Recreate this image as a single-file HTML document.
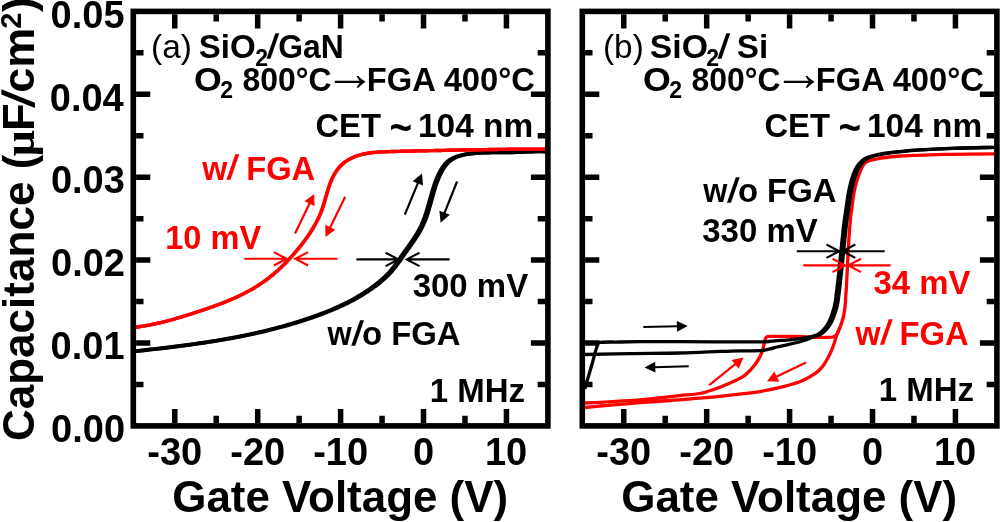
<!DOCTYPE html>
<html><head><meta charset="utf-8"><style>
html,body{margin:0;padding:0;background:#fff;}
body{width:1000px;height:522px;overflow:hidden;}
svg{display:block;}

</style></head><body>
<svg width="1000" height="522" viewBox="0 0 1000 522" font-family="&quot;Liberation Sans&quot;, sans-serif">
<rect width="1000" height="522" fill="#fff"/>
<path d="M132.32,351.41 L134.30,351.19 L136.28,350.98 L138.26,350.77 L140.24,350.55 L142.22,350.33 L144.20,350.12 L146.18,349.90 L148.16,349.68 L150.14,349.46 L152.12,349.23 L154.10,349.01 L156.09,348.78 L158.07,348.55 L160.05,348.32 L162.03,348.09 L164.01,347.85 L165.99,347.62 L167.97,347.38 L169.95,347.13 L171.93,346.89 L173.91,346.64 L175.89,346.39 L177.87,346.14 L179.85,345.89 L181.83,345.63 L183.81,345.37 L185.79,345.10 L187.77,344.84 L189.75,344.57 L191.72,344.29 L193.70,344.01 L195.68,343.73 L197.65,343.45 L199.63,343.16 L201.60,342.87 L203.57,342.57 L205.55,342.27 L207.52,341.97 L209.49,341.66 L211.46,341.35 L213.43,341.03 L215.40,340.71 L217.37,340.38 L219.33,340.05 L221.30,339.71 L223.27,339.37 L225.23,339.03 L227.19,338.68 L229.16,338.32 L231.12,337.96 L233.08,337.60 L235.04,337.23 L236.99,336.85 L238.95,336.47 L240.91,336.08 L242.86,335.69 L244.81,335.29 L246.76,334.89 L248.71,334.48 L250.66,334.06 L252.61,333.64 L254.56,333.21 L256.50,332.77 L258.44,332.33 L260.38,331.88 L262.32,331.43 L264.26,330.97 L266.20,330.50 L268.13,330.02 L270.07,329.54 L272.00,329.05 L273.93,328.56 L275.86,328.06 L277.78,327.54 L279.71,327.03 L281.63,326.50 L283.55,325.97 L285.47,325.43 L287.38,324.88 L289.30,324.33 L291.21,323.76 L293.12,323.19 L295.03,322.61 L296.94,322.02 L298.84,321.43 L300.74,320.82 L302.64,320.21 L304.54,319.59 L306.44,318.96 L308.33,318.32 L310.22,317.67 L312.11,317.01 L313.99,316.35 L315.88,315.67 L317.76,314.99 L319.63,314.29 L321.50,313.58 L323.37,312.87 L325.23,312.14 L327.09,311.39 L328.94,310.64 L330.78,309.88 L332.62,309.10 L334.45,308.30 L336.28,307.50 L338.10,306.68 L339.91,305.85 L341.72,305.00 L343.51,304.13 L345.30,303.26 L347.08,302.36 L348.85,301.45 L350.61,300.52 L352.36,299.58 L354.10,298.62 L355.83,297.64 L357.56,296.65 L359.27,295.64 L360.96,294.60 L362.65,293.55 L364.33,292.48 L365.99,291.39 L367.64,290.29 L369.28,289.16 L370.90,288.01 L372.52,286.84 L374.11,285.65 L375.70,284.43 L377.26,283.20 L378.81,281.94 L380.34,280.66 L381.84,279.35 L383.32,278.01 L384.77,276.65 L386.19,275.26 L387.58,273.84 L388.94,272.40 L390.26,270.92 L391.55,269.41 L392.79,267.87 L394.01,266.30 L395.20,264.71 L396.36,263.11 L397.52,261.49 L398.66,259.85 L399.80,258.21 L400.94,256.57 L402.09,254.93 L403.25,253.30 L404.42,251.67 L405.59,250.03 L406.76,248.40 L407.93,246.77 L409.09,245.13 L410.25,243.49 L411.39,241.84 L412.52,240.18 L413.63,238.52 L414.72,236.84 L415.78,235.15 L416.82,233.45 L417.82,231.73 L418.79,230.00 L419.73,228.25 L420.62,226.48 L421.47,224.68 L422.27,222.87 L423.04,221.04 L423.76,219.19 L424.46,217.32 L425.12,215.43 L425.75,213.54 L426.36,211.63 L426.95,209.71 L427.52,207.79 L428.08,205.85 L428.62,203.92 L429.17,201.97 L429.70,200.03 L430.24,198.09 L430.78,196.15 L431.33,194.21 L431.89,192.28 L432.46,190.35 L433.05,188.44 L433.66,186.53 L434.29,184.64 L434.95,182.75 L435.64,180.89 L436.37,179.04 L437.14,177.20 L437.94,175.39 L438.79,173.60 L439.70,171.84 L440.65,170.12 L441.67,168.45 L442.75,166.85 L443.90,165.31 L445.13,163.86 L446.44,162.49 L447.84,161.23 L449.33,160.09 L450.91,159.06 L452.58,158.14 L454.33,157.33 L456.14,156.61 L458.01,155.98 L459.93,155.43 L461.89,154.96 L463.88,154.55 L465.90,154.19 L467.92,153.88 L469.95,153.62 L471.98,153.39 L474.01,153.19 L476.04,153.03 L478.07,152.89 L480.09,152.78 L482.12,152.69 L484.14,152.62 L486.16,152.57 L488.18,152.54 L490.20,152.51 L492.22,152.50 L494.23,152.49 L496.24,152.49 L498.25,152.49 L500.25,152.49 L502.25,152.49 L504.25,152.48 L506.24,152.46 L508.23,152.43 L510.21,152.39 L512.19,152.33 L514.17,152.27 L516.14,152.19 L518.11,152.11 L520.08,152.02 L522.05,151.93 L524.02,151.85 L526.00,151.76 L527.97,151.68 L529.95,151.61 L531.94,151.55 L533.93,151.50 L535.92,151.47 L537.93,151.46 L539.94,151.46 L541.96,151.49 L543.98,151.54 L546.02,151.62" stroke="#000" stroke-width="3.70" fill="none" stroke-linejoin="round"/>
<path d="M134.32,351.41 L136.30,351.19 L138.28,350.98 L140.26,350.77 L142.24,350.55 L144.22,350.33 L146.20,350.12 L148.18,349.90 L150.16,349.68 L152.14,349.46 L154.12,349.23 L156.10,349.01 L158.09,348.78 L160.07,348.55 L162.05,348.32 L164.03,348.09 L166.01,347.85 L167.99,347.62 L169.97,347.38 L171.95,347.13 L173.93,346.89 L175.91,346.64 L177.89,346.39 L179.87,346.14 L181.85,345.89 L183.83,345.63 L185.81,345.37 L187.79,345.10 L189.77,344.84 L191.75,344.57 L193.72,344.29 L195.70,344.01 L197.68,343.73 L199.65,343.45 L201.63,343.16 L203.60,342.87 L205.57,342.57 L207.55,342.27 L209.52,341.97 L211.49,341.66 L213.46,341.35 L215.43,341.03 L217.40,340.71 L219.37,340.38 L221.33,340.05 L223.30,339.71 L225.27,339.37 L227.23,339.03 L229.19,338.68 L231.16,338.32 L233.12,337.96 L235.08,337.60 L237.04,337.23 L238.99,336.85 L240.95,336.47 L242.91,336.08 L244.86,335.69 L246.81,335.29 L248.76,334.89 L250.71,334.48 L252.66,334.06 L254.61,333.64 L256.56,333.21 L258.50,332.77 L260.44,332.33 L262.38,331.88 L264.32,331.43 L266.26,330.97 L268.20,330.50 L270.13,330.02 L272.07,329.54 L274.00,329.05 L275.93,328.56 L277.86,328.06 L279.78,327.54 L281.71,327.03 L283.63,326.50 L285.55,325.97 L287.47,325.43 L289.38,324.88 L291.30,324.33 L293.21,323.76 L295.12,323.19 L297.03,322.61 L298.94,322.02 L300.84,321.43 L302.74,320.82 L304.64,320.21 L306.54,319.59 L308.44,318.96 L310.33,318.32 L312.22,317.67 L314.11,317.01 L315.99,316.35 L317.88,315.67 L319.76,314.99 L321.63,314.29 L323.50,313.58 L325.37,312.87 L327.23,312.14 L329.09,311.39 L330.94,310.64 L332.78,309.88 L334.62,309.10 L336.45,308.30 L338.28,307.50 L340.10,306.68 L341.91,305.85 L343.72,305.00 L345.51,304.13 L347.30,303.26 L349.08,302.36 L350.85,301.45 L352.61,300.52 L354.36,299.58 L356.10,298.62 L357.83,297.64 L359.56,296.65 L361.27,295.64 L362.96,294.60 L364.65,293.55 L366.33,292.48 L367.99,291.39 L369.64,290.29 L371.28,289.16 L372.90,288.01 L374.52,286.84 L376.11,285.65 L377.70,284.43 L379.26,283.20 L380.81,281.94 L382.34,280.66 L383.84,279.35 L385.32,278.01 L386.77,276.65 L388.19,275.26 L389.58,273.84 L390.94,272.40 L392.26,270.92 L393.55,269.41 L394.79,267.87 L396.01,266.30 L397.20,264.71 L398.36,263.11 L399.52,261.49 L400.66,259.85 L401.80,258.21 L402.94,256.57 L404.09,254.93 L405.25,253.30 L406.42,251.67 L407.59,250.03 L408.76,248.40 L409.93,246.77 L411.09,245.13 L412.25,243.49 L413.39,241.84 L414.52,240.18 L415.63,238.52 L416.72,236.84 L417.78,235.15 L418.82,233.45 L419.82,231.73 L420.79,230.00 L421.73,228.25 L422.62,226.48 L423.47,224.68 L424.27,222.87 L425.04,221.04 L425.76,219.19 L426.46,217.32 L427.12,215.43 L427.75,213.54 L428.36,211.63 L428.95,209.71 L429.52,207.79 L430.08,205.85 L430.62,203.92 L431.17,201.97 L431.70,200.03 L432.24,198.09 L432.78,196.15 L433.33,194.21 L433.89,192.28 L434.46,190.35 L435.05,188.44 L435.66,186.53 L436.29,184.64 L436.95,182.75 L437.64,180.89 L438.37,179.04 L439.14,177.20 L439.94,175.39 L440.79,173.60 L441.70,171.84 L442.65,170.12 L443.67,168.45 L444.75,166.85 L445.90,165.31 L447.13,163.86 L448.44,162.49 L449.84,161.23 L451.33,160.09 L452.91,159.06 L454.58,158.14 L456.33,157.33 L458.14,156.61 L460.01,155.98 L461.93,155.43 L463.89,154.96 L465.88,154.55 L467.90,154.19 L469.92,153.88 L471.95,153.62 L473.98,153.39 L476.01,153.19 L478.04,153.03 L480.07,152.89 L482.09,152.78 L484.12,152.69 L486.14,152.62 L488.16,152.57 L490.18,152.54 L492.20,152.51 L494.22,152.50 L496.23,152.49 L498.24,152.49 L500.25,152.49 L502.25,152.49 L504.25,152.49 L506.25,152.48 L508.24,152.46 L510.23,152.43 L512.21,152.39 L514.19,152.33 L516.17,152.27 L518.14,152.19 L520.11,152.11 L522.08,152.02 L524.05,151.93 L526.02,151.85 L528.00,151.76 L529.97,151.68 L531.95,151.61 L533.94,151.55 L535.93,151.50 L537.92,151.47 L539.93,151.46 L541.94,151.46 L543.96,151.49 L545.98,151.54 L548.02,151.62" stroke="#000" stroke-width="3.70" fill="none" stroke-linejoin="round"/>
<path d="M133.12,327.53 L135.13,327.28 L137.13,327.02 L139.12,326.73 L141.11,326.43 L143.10,326.11 L145.07,325.77 L147.04,325.42 L149.01,325.05 L150.97,324.67 L152.92,324.27 L154.87,323.86 L156.82,323.43 L158.76,322.99 L160.70,322.54 L162.63,322.07 L164.56,321.59 L166.49,321.10 L168.41,320.60 L170.33,320.09 L172.25,319.56 L174.17,319.03 L176.08,318.48 L177.99,317.93 L179.89,317.37 L181.80,316.80 L183.71,316.22 L185.61,315.63 L187.51,315.03 L189.41,314.43 L191.31,313.82 L193.21,313.21 L195.11,312.59 L197.01,311.97 L198.91,311.34 L200.81,310.70 L202.71,310.06 L204.61,309.42 L206.50,308.77 L208.40,308.11 L210.29,307.45 L212.19,306.78 L214.08,306.10 L215.96,305.42 L217.85,304.72 L219.73,304.01 L221.60,303.30 L223.47,302.57 L225.33,301.83 L227.19,301.08 L229.04,300.31 L230.88,299.54 L232.72,298.74 L234.55,297.94 L236.37,297.11 L238.18,296.28 L239.98,295.42 L241.78,294.55 L243.56,293.66 L245.33,292.76 L247.09,291.83 L248.84,290.88 L250.57,289.92 L252.30,288.93 L254.01,287.93 L255.70,286.90 L257.39,285.85 L259.06,284.77 L260.71,283.67 L262.35,282.55 L263.97,281.41 L265.58,280.24 L267.17,279.05 L268.75,277.84 L270.31,276.61 L271.86,275.36 L273.39,274.08 L274.91,272.79 L276.41,271.48 L277.90,270.15 L279.37,268.80 L280.83,267.43 L282.27,266.05 L283.70,264.65 L285.12,263.23 L286.52,261.80 L287.90,260.36 L289.27,258.90 L290.63,257.42 L291.97,255.93 L293.30,254.43 L294.61,252.92 L295.91,251.39 L297.20,249.86 L298.47,248.31 L299.72,246.76 L300.97,245.19 L302.19,243.61 L303.41,242.03 L304.60,240.43 L305.78,238.82 L306.94,237.21 L308.08,235.57 L309.20,233.93 L310.29,232.28 L311.37,230.61 L312.41,228.92 L313.43,227.22 L314.42,225.51 L315.39,223.78 L316.32,222.04 L317.22,220.27 L318.09,218.49 L318.93,216.69 L319.73,214.88 L320.50,213.04 L321.23,211.18 L321.91,209.31 L322.57,207.41 L323.19,205.50 L323.78,203.57 L324.36,201.64 L324.92,199.70 L325.48,197.75 L326.03,195.80 L326.59,193.86 L327.16,191.92 L327.74,189.99 L328.35,188.07 L328.98,186.16 L329.65,184.27 L330.35,182.41 L331.10,180.56 L331.90,178.75 L332.76,176.96 L333.68,175.21 L334.65,173.50 L335.69,171.84 L336.80,170.23 L337.97,168.67 L339.21,167.18 L340.52,165.76 L341.91,164.42 L343.37,163.15 L344.91,161.96 L346.51,160.85 L348.17,159.82 L349.88,158.87 L351.64,157.99 L353.45,157.18 L355.29,156.44 L357.16,155.77 L359.05,155.17 L360.97,154.63 L362.91,154.16 L364.87,153.74 L366.85,153.37 L368.84,153.05 L370.84,152.78 L372.85,152.54 L374.88,152.35 L376.91,152.18 L378.94,152.04 L380.98,151.93 L383.03,151.83 L385.07,151.75 L387.11,151.68 L389.15,151.62 L391.18,151.56 L393.21,151.51 L395.23,151.45 L397.24,151.40 L399.25,151.35 L401.26,151.29 L403.26,151.24 L405.26,151.20 L407.25,151.15 L409.25,151.10 L411.23,151.06 L413.22,151.01 L415.20,150.97 L417.18,150.92 L419.16,150.88 L421.14,150.84 L423.12,150.80 L425.10,150.75 L427.07,150.71 L429.05,150.67 L431.02,150.63 L433.00,150.59 L434.98,150.55 L436.96,150.51 L438.94,150.47 L440.92,150.44 L442.90,150.40 L444.89,150.36 L446.88,150.32 L448.87,150.28 L450.86,150.24 L452.85,150.20 L454.84,150.16 L456.84,150.12 L458.83,150.09 L460.83,150.05 L462.83,150.01 L464.83,149.97 L466.83,149.94 L468.83,149.90 L470.84,149.86 L472.84,149.83 L474.84,149.79 L476.85,149.76 L478.85,149.72 L480.86,149.69 L482.87,149.66 L484.87,149.63 L486.88,149.59 L488.89,149.56 L490.89,149.53 L492.90,149.50 L494.91,149.48 L496.91,149.45 L498.92,149.42 L500.93,149.39 L502.93,149.37 L504.94,149.34 L506.94,149.32 L508.94,149.30 L510.95,149.28 L512.95,149.26 L514.95,149.24 L516.95,149.22 L518.95,149.20 L520.95,149.19 L522.95,149.17 L524.94,149.16 L526.94,149.14 L528.93,149.13 L530.92,149.12 L532.91,149.12 L534.90,149.11 L536.89,149.10 L538.87,149.10 L540.86,149.10 L542.84,149.09 L544.82,149.09 L546.79,149.10" stroke="#ff0000" stroke-width="3.40" fill="none" stroke-linejoin="round"/>
<path d="M133.42,327.53 L135.43,327.28 L137.43,327.02 L139.42,326.73 L141.41,326.43 L143.40,326.11 L145.37,325.77 L147.34,325.42 L149.31,325.05 L151.27,324.67 L153.22,324.27 L155.17,323.86 L157.12,323.43 L159.06,322.99 L161.00,322.54 L162.93,322.07 L164.86,321.59 L166.79,321.10 L168.71,320.60 L170.63,320.09 L172.55,319.56 L174.47,319.03 L176.38,318.48 L178.29,317.93 L180.19,317.37 L182.10,316.80 L184.01,316.22 L185.91,315.63 L187.81,315.03 L189.71,314.43 L191.61,313.82 L193.51,313.21 L195.41,312.59 L197.31,311.97 L199.21,311.34 L201.11,310.70 L203.01,310.06 L204.91,309.42 L206.80,308.77 L208.70,308.11 L210.59,307.45 L212.49,306.78 L214.38,306.10 L216.26,305.42 L218.15,304.72 L220.03,304.01 L221.90,303.30 L223.77,302.57 L225.63,301.83 L227.49,301.08 L229.34,300.31 L231.18,299.54 L233.02,298.74 L234.85,297.94 L236.67,297.11 L238.48,296.28 L240.28,295.42 L242.08,294.55 L243.86,293.66 L245.63,292.76 L247.39,291.83 L249.14,290.88 L250.87,289.92 L252.60,288.93 L254.31,287.93 L256.00,286.90 L257.69,285.85 L259.36,284.77 L261.01,283.67 L262.65,282.55 L264.27,281.41 L265.88,280.24 L267.47,279.05 L269.05,277.84 L270.61,276.61 L272.16,275.36 L273.69,274.08 L275.21,272.79 L276.71,271.48 L278.20,270.15 L279.67,268.80 L281.13,267.43 L282.57,266.05 L284.00,264.65 L285.42,263.23 L286.82,261.80 L288.20,260.36 L289.57,258.90 L290.93,257.42 L292.27,255.93 L293.60,254.43 L294.91,252.92 L296.21,251.39 L297.50,249.86 L298.77,248.31 L300.02,246.76 L301.27,245.19 L302.49,243.61 L303.71,242.03 L304.90,240.43 L306.08,238.82 L307.24,237.21 L308.38,235.57 L309.50,233.93 L310.59,232.28 L311.67,230.61 L312.71,228.92 L313.73,227.22 L314.72,225.51 L315.69,223.78 L316.62,222.04 L317.52,220.27 L318.39,218.49 L319.23,216.69 L320.03,214.88 L320.80,213.04 L321.53,211.18 L322.21,209.31 L322.87,207.41 L323.49,205.50 L324.08,203.57 L324.66,201.64 L325.22,199.70 L325.78,197.75 L326.33,195.80 L326.89,193.86 L327.46,191.92 L328.04,189.99 L328.65,188.07 L329.28,186.16 L329.95,184.27 L330.65,182.41 L331.40,180.56 L332.20,178.75 L333.06,176.96 L333.98,175.21 L334.95,173.50 L335.99,171.84 L337.10,170.23 L338.27,168.67 L339.51,167.18 L340.82,165.76 L342.21,164.42 L343.67,163.15 L345.21,161.96 L346.81,160.85 L348.47,159.82 L350.18,158.87 L351.94,157.99 L353.75,157.18 L355.59,156.44 L357.46,155.77 L359.35,155.17 L361.27,154.63 L363.21,154.16 L365.17,153.74 L367.15,153.37 L369.14,153.05 L371.14,152.78 L373.15,152.54 L375.18,152.35 L377.21,152.18 L379.24,152.04 L381.28,151.93 L383.33,151.83 L385.37,151.75 L387.41,151.68 L389.45,151.62 L391.48,151.56 L393.51,151.51 L395.53,151.45 L397.54,151.40 L399.55,151.35 L401.56,151.29 L403.56,151.24 L405.56,151.20 L407.55,151.15 L409.55,151.10 L411.53,151.06 L413.52,151.01 L415.50,150.97 L417.48,150.92 L419.46,150.88 L421.44,150.84 L423.42,150.80 L425.40,150.75 L427.37,150.71 L429.35,150.67 L431.32,150.63 L433.30,150.59 L435.28,150.55 L437.26,150.51 L439.24,150.47 L441.22,150.44 L443.20,150.40 L445.19,150.36 L447.18,150.32 L449.17,150.28 L451.16,150.24 L453.15,150.20 L455.14,150.16 L457.14,150.12 L459.13,150.09 L461.13,150.05 L463.13,150.01 L465.13,149.97 L467.13,149.94 L469.13,149.90 L471.14,149.86 L473.14,149.83 L475.14,149.79 L477.15,149.76 L479.15,149.72 L481.16,149.69 L483.17,149.66 L485.17,149.63 L487.18,149.59 L489.19,149.56 L491.19,149.53 L493.20,149.50 L495.21,149.48 L497.21,149.45 L499.22,149.42 L501.23,149.39 L503.23,149.37 L505.24,149.34 L507.24,149.32 L509.24,149.30 L511.25,149.28 L513.25,149.26 L515.25,149.24 L517.25,149.22 L519.25,149.20 L521.25,149.19 L523.25,149.17 L525.24,149.16 L527.24,149.14 L529.23,149.13 L531.22,149.12 L533.21,149.12 L535.20,149.11 L537.19,149.10 L539.17,149.10 L541.16,149.10 L543.14,149.09 L545.12,149.09 L547.09,149.10" stroke="#ff0000" stroke-width="3.40" fill="none" stroke-linejoin="round"/>
<path d="M295.00,233.50L309.92,202.72" stroke="#ff0000" stroke-width="2.20"/>
<path d="M314.20,193.90L314.53,206.06L304.45,201.17Z" fill="#ff0000"/>
<path d="M345.20,196.70L329.80,228.20" stroke="#ff0000" stroke-width="2.20"/>
<path d="M325.50,237.00L325.21,224.84L335.27,229.76Z" fill="#ff0000"/>
<path d="M404.80,214.60L418.22,182.44" stroke="#000" stroke-width="2.20"/>
<path d="M422.00,173.40L423.01,185.52L412.67,181.21Z" fill="#000"/>
<path d="M457.10,181.50L444.24,213.70" stroke="#000" stroke-width="2.20"/>
<path d="M440.60,222.80L439.41,210.69L449.81,214.85Z" fill="#000"/>
<path d="M244.30,258.80L286.60,258.80M273.80,252.10L286.60,258.80L273.80,265.50" stroke="#ff0000" stroke-width="2.10" fill="none" stroke-linejoin="miter"/>
<path d="M337.60,258.80L295.30,258.80M308.10,252.10L295.30,258.80L308.10,265.50" stroke="#ff0000" stroke-width="2.10" fill="none" stroke-linejoin="miter"/>
<path d="M356.40,259.40L398.40,259.40M385.60,252.70L398.40,259.40L385.60,266.10" stroke="#000" stroke-width="2.10" fill="none" stroke-linejoin="miter"/>
<path d="M449.60,259.40L406.70,259.40M419.50,252.70L406.70,259.40L419.50,266.10" stroke="#000" stroke-width="2.10" fill="none" stroke-linejoin="miter"/>
<path d="M584.70,403.00 C587.25,402.88 594.78,402.58 600.00,402.30 C605.22,402.02 609.33,401.72 616.00,401.30 C622.67,400.88 632.00,400.43 640.00,399.80 C648.00,399.17 657.33,398.20 664.00,397.50 C670.67,396.80 674.00,396.27 680.00,395.60 C686.00,394.93 694.12,394.60 700.00,393.50 C705.88,392.40 710.18,390.78 715.30,389.00 C720.42,387.22 726.10,384.85 730.70,382.80 C735.30,380.75 739.58,378.87 742.90,376.70 C746.22,374.53 748.33,372.17 750.60,369.80 C752.87,367.43 754.85,364.88 756.50,362.50 C758.15,360.12 759.42,357.83 760.50,355.50 C761.58,353.17 762.32,350.75 763.00,348.50 C763.68,346.25 764.17,343.72 764.60,342.00 C765.03,340.28 765.10,339.12 765.60,338.20 C766.10,337.28 766.03,336.80 767.60,336.50 C769.17,336.20 771.27,336.40 775.00,336.40 C778.73,336.40 785.33,336.47 790.00,336.50 C794.67,336.53 798.83,336.47 803.00,336.60 C807.17,336.73 811.17,337.18 815.00,337.30 C818.83,337.42 823.00,337.35 826.00,337.30 C829.00,337.25 831.17,337.47 833.00,337.00 C834.83,336.53 835.83,336.17 837.00,334.50 C838.17,332.83 839.50,328.25 840.00,327.00" stroke="#ff0000" stroke-width="3.30" fill="none" stroke-linejoin="round" stroke-linecap="butt"/>
<path d="M584.70,407.50 C587.25,407.25 594.12,406.53 600.00,406.00 C605.88,405.47 613.33,404.85 620.00,404.30 C626.67,403.75 631.67,403.33 640.00,402.70 C648.33,402.07 660.00,401.25 670.00,400.50 C680.00,399.75 689.88,399.10 700.00,398.20 C710.12,397.30 720.48,396.25 730.70,395.10 C740.92,393.95 752.20,392.78 761.30,391.30 C770.40,389.82 778.42,388.00 785.30,386.20 C792.18,384.40 797.48,382.73 802.60,380.50 C807.72,378.27 812.68,375.13 816.00,372.80 C819.32,370.47 820.67,368.72 822.50,366.50 C824.33,364.28 825.58,361.97 827.00,359.50 C828.42,357.03 829.78,354.45 831.00,351.70 C832.22,348.95 833.27,346.03 834.30,343.00 C835.33,339.97 836.17,336.33 837.20,333.50 C838.23,330.67 839.52,328.58 840.50,326.00 C841.48,323.42 842.42,320.62 843.10,318.00 C843.78,315.38 844.22,312.85 844.60,310.30 C844.98,307.75 845.20,305.25 845.40,302.70 C845.60,300.15 845.67,297.02 845.80,295.00 C845.93,292.98 846.07,292.60 846.20,290.60 C846.33,288.60 846.47,285.55 846.60,283.00 C846.73,280.45 846.87,277.85 847.00,275.30 C847.13,272.75 847.27,270.25 847.40,267.70 C847.53,265.15 847.67,262.62 847.80,260.00 C847.93,257.38 848.07,254.67 848.20,252.00 C848.33,249.33 848.45,246.67 848.60,244.00 C848.75,241.33 848.93,238.58 849.10,236.00 C849.27,233.42 849.40,231.00 849.60,228.50 C849.80,226.00 850.08,223.33 850.30,221.00 C850.52,218.67 850.68,216.40 850.90,214.50 C851.12,212.60 851.32,211.70 851.60,209.60 C851.88,207.50 852.23,204.47 852.60,201.90 C852.97,199.33 853.35,196.77 853.80,194.20 C854.25,191.63 854.60,189.32 855.30,186.50 C856.00,183.68 857.05,180.12 858.00,177.30 C858.95,174.48 859.92,171.90 861.00,169.60 C862.08,167.30 863.25,164.93 864.50,163.50 C865.75,162.07 866.75,161.68 868.50,161.00 C870.25,160.32 872.28,159.98 875.00,159.40 C877.72,158.82 880.63,158.07 884.80,157.50 C888.97,156.93 894.80,156.37 900.00,156.00 C905.20,155.63 907.33,155.58 916.00,155.30 C924.67,155.02 939.00,154.55 952.00,154.30 C965.00,154.05 987.00,153.88 994.00,153.80" stroke="#ff0000" stroke-width="3.30" fill="none" stroke-linejoin="round" stroke-linecap="butt"/>
<path d="M584.70,389.00 C585.83,385.17 589.37,373.33 591.50,366.00 C593.63,358.67 595.92,348.95 597.50,345.00 C599.08,341.05 597.25,342.80 601.00,342.30 C604.75,341.80 611.83,342.12 620.00,342.00 C628.17,341.88 640.00,341.67 650.00,341.60 C660.00,341.53 668.33,341.55 680.00,341.60 C691.67,341.65 706.00,341.87 720.00,341.90 C734.00,341.93 754.83,341.98 764.00,341.80 C773.17,341.62 770.67,341.13 775.00,340.80 C779.33,340.47 785.83,340.17 790.00,339.80 C794.17,339.43 797.33,338.97 800.00,338.60 C802.67,338.23 804.23,337.90 806.00,337.60 C807.77,337.30 808.88,337.25 810.65,336.80 C812.42,336.35 814.90,335.70 816.65,334.90 C818.40,334.10 819.70,333.23 821.15,332.00 C822.60,330.77 824.07,329.17 825.35,327.50 C826.63,325.83 827.80,324.03 828.85,322.00 C829.90,319.97 830.80,317.63 831.65,315.30 C832.50,312.97 833.35,310.22 833.95,308.00 C834.55,305.78 834.88,304.17 835.25,302.00 C835.62,299.83 835.85,297.33 836.15,295.00 C836.45,292.67 836.75,290.50 837.05,288.00 C837.35,285.50 837.65,282.67 837.95,280.00 C838.25,277.33 838.57,274.67 838.85,272.00 C839.13,269.33 839.38,266.67 839.65,264.00 C839.92,261.33 840.18,258.67 840.45,256.00 C840.72,253.33 840.98,250.62 841.25,248.00 C841.52,245.38 841.78,242.85 842.05,240.30 C842.32,237.75 842.58,235.25 842.85,232.70 C843.12,230.15 843.33,227.57 843.65,225.00 C843.97,222.43 844.38,219.87 844.75,217.30 C845.12,214.73 845.48,212.17 845.85,209.60 C846.22,207.03 846.57,204.47 846.95,201.90 C847.33,199.33 847.68,196.77 848.15,194.20 C848.62,191.63 849.08,189.27 849.75,186.50 C850.42,183.73 851.25,180.38 852.15,177.60 C853.05,174.82 854.02,172.12 855.15,169.80 C856.28,167.48 857.37,165.57 858.95,163.70 C860.53,161.83 862.20,159.97 864.65,158.60 C867.10,157.23 870.52,156.37 873.65,155.50 C876.78,154.63 879.28,154.05 883.45,153.40 C887.62,152.75 893.45,152.13 898.65,151.60 C903.85,151.07 905.98,150.73 914.65,150.20 C923.32,149.67 937.65,148.88 950.65,148.40 C963.65,147.92 985.65,147.48 992.65,147.30" stroke="#000" stroke-width="3.30" fill="none" stroke-linejoin="round" stroke-linecap="butt"/>
<path d="M584.70,354.50 C592.25,354.35 614.12,353.85 630.00,353.60 C645.88,353.35 665.00,353.37 680.00,353.00 C695.00,352.63 710.00,351.77 720.00,351.40 C730.00,351.03 733.33,350.92 740.00,350.80 C746.67,350.68 755.00,351.02 760.00,350.70 C765.00,350.38 767.17,349.52 770.00,348.90 C772.83,348.28 774.50,347.60 777.00,347.00 C779.50,346.40 782.00,345.97 785.00,345.30 C788.00,344.63 791.67,343.85 795.00,343.00 C798.33,342.15 801.94,341.23 805.00,340.20 C808.06,339.17 810.96,337.68 813.35,336.80 C815.74,335.92 817.60,335.70 819.35,334.90 C821.10,334.10 822.40,333.23 823.85,332.00 C825.30,330.77 826.77,329.17 828.05,327.50 C829.33,325.83 830.50,324.03 831.55,322.00 C832.60,319.97 833.50,317.63 834.35,315.30 C835.20,312.97 836.05,310.22 836.65,308.00 C837.25,305.78 837.58,304.17 837.95,302.00 C838.32,299.83 838.55,297.33 838.85,295.00 C839.15,292.67 839.45,290.50 839.75,288.00 C840.05,285.50 840.35,282.67 840.65,280.00 C840.95,277.33 841.27,274.67 841.55,272.00 C841.83,269.33 842.08,266.67 842.35,264.00 C842.62,261.33 842.88,258.67 843.15,256.00 C843.42,253.33 843.68,250.62 843.95,248.00 C844.22,245.38 844.48,242.85 844.75,240.30 C845.02,237.75 845.28,235.25 845.55,232.70 C845.82,230.15 846.03,227.57 846.35,225.00 C846.67,222.43 847.08,219.87 847.45,217.30 C847.82,214.73 848.18,212.17 848.55,209.60 C848.92,207.03 849.27,204.47 849.65,201.90 C850.03,199.33 850.38,196.77 850.85,194.20 C851.32,191.63 851.78,189.27 852.45,186.50 C853.12,183.73 853.95,180.38 854.85,177.60 C855.75,174.82 856.72,172.12 857.85,169.80 C858.98,167.48 860.07,165.57 861.65,163.70 C863.23,161.83 864.90,159.97 867.35,158.60 C869.80,157.23 873.22,156.37 876.35,155.50 C879.48,154.63 881.98,154.05 886.15,153.40 C890.32,152.75 896.15,152.13 901.35,151.60 C906.55,151.07 908.68,150.73 917.35,150.20 C926.02,149.67 940.35,148.88 953.35,148.40 C966.35,147.92 988.35,147.48 995.35,147.30" stroke="#000" stroke-width="3.30" fill="none" stroke-linejoin="round" stroke-linecap="butt"/>
<path d="M643.40,327.00L677.90,326.30" stroke="#000" stroke-width="2.00"/>
<path d="M687.70,326.10L677.01,331.72L676.79,320.92Z" fill="#000"/>
<path d="M688.70,366.30L654.30,367.16" stroke="#000" stroke-width="2.00"/>
<path d="M644.50,367.40L655.16,361.73L655.43,372.53Z" fill="#000"/>
<path d="M709.20,385.10L735.85,363.73" stroke="#ff0000" stroke-width="2.20"/>
<path d="M743.50,357.60L738.58,368.72L731.57,359.99Z" fill="#ff0000"/>
<path d="M806.00,362.50L775.83,377.04" stroke="#ff0000" stroke-width="2.20"/>
<path d="M767.00,381.30L774.30,371.57L779.16,381.65Z" fill="#ff0000"/>
<path d="M796.80,251.20L839.30,251.20M826.50,244.50L839.30,251.20L826.50,257.90" stroke="#000" stroke-width="2.10" fill="none" stroke-linejoin="miter"/>
<path d="M884.60,251.20L842.50,251.20M855.30,244.50L842.50,251.20L855.30,257.90" stroke="#000" stroke-width="2.10" fill="none" stroke-linejoin="miter"/>
<path d="M803.20,265.40L845.30,265.40M832.50,258.70L845.30,265.40L832.50,272.10" stroke="#ff0000" stroke-width="2.10" fill="none" stroke-linejoin="miter"/>
<path d="M890.70,265.40L848.30,265.40M861.10,258.70L848.30,265.40L861.10,272.10" stroke="#ff0000" stroke-width="2.10" fill="none" stroke-linejoin="miter"/>
<rect x="133.30" y="11.40" width="414.60" height="414.50" fill="none" stroke="#000" stroke-width="5.6"/>
<path d="M174.76,423.10L174.76,408.90M174.76,14.20L174.76,28.40M216.22,423.10L216.22,415.70M216.22,14.20L216.22,21.60M257.68,423.10L257.68,408.90M257.68,14.20L257.68,28.40M299.14,423.10L299.14,415.70M299.14,14.20L299.14,21.60M340.60,423.10L340.60,408.90M340.60,14.20L340.60,28.40M382.06,423.10L382.06,415.70M382.06,14.20L382.06,21.60M423.52,423.10L423.52,408.90M423.52,14.20L423.52,28.40M464.98,423.10L464.98,415.70M464.98,14.20L464.98,21.60M506.44,423.10L506.44,408.90M506.44,14.20L506.44,28.40M136.10,384.45L143.50,384.45M545.10,384.45L537.70,384.45M136.10,343.00L150.30,343.00M545.10,343.00L530.90,343.00M136.10,301.55L143.50,301.55M545.10,301.55L537.70,301.55M136.10,260.10L150.30,260.10M545.10,260.10L530.90,260.10M136.10,218.65L143.50,218.65M545.10,218.65L537.70,218.65M136.10,177.20L150.30,177.20M545.10,177.20L530.90,177.20M136.10,135.75L143.50,135.75M545.10,135.75L537.70,135.75M136.10,94.30L150.30,94.30M545.10,94.30L530.90,94.30M136.10,52.85L143.50,52.85M545.10,52.85L537.70,52.85" stroke="#000" stroke-width="5.5" fill="none"/>
<rect x="582.30" y="11.40" width="414.60" height="414.50" fill="none" stroke="#000" stroke-width="5.6"/>
<path d="M623.76,423.10L623.76,408.90M623.76,14.20L623.76,28.40M665.22,423.10L665.22,415.70M665.22,14.20L665.22,21.60M706.68,423.10L706.68,408.90M706.68,14.20L706.68,28.40M748.14,423.10L748.14,415.70M748.14,14.20L748.14,21.60M789.60,423.10L789.60,408.90M789.60,14.20L789.60,28.40M831.06,423.10L831.06,415.70M831.06,14.20L831.06,21.60M872.52,423.10L872.52,408.90M872.52,14.20L872.52,28.40M913.98,423.10L913.98,415.70M913.98,14.20L913.98,21.60M955.44,423.10L955.44,408.90M955.44,14.20L955.44,28.40M585.10,384.45L592.50,384.45M994.10,384.45L986.70,384.45M585.10,343.00L599.30,343.00M994.10,343.00L979.90,343.00M585.10,301.55L592.50,301.55M994.10,301.55L986.70,301.55M585.10,260.10L599.30,260.10M994.10,260.10L979.90,260.10M585.10,218.65L592.50,218.65M994.10,218.65L986.70,218.65M585.10,177.20L599.30,177.20M994.10,177.20L979.90,177.20M585.10,135.75L592.50,135.75M994.10,135.75L986.70,135.75M585.10,94.30L599.30,94.30M994.10,94.30L979.90,94.30M585.10,52.85L592.50,52.85M994.10,52.85L986.70,52.85" stroke="#000" stroke-width="5.5" fill="none"/>
<text x="147.34" y="465.10" font-size="38.00" font-weight="bold" fill="#000">-30</text>
<text x="230.26" y="465.10" font-size="38.00" font-weight="bold" fill="#000">-20</text>
<text x="313.18" y="465.10" font-size="38.00" font-weight="bold" fill="#000">-10</text>
<text x="412.98" y="465.10" font-size="38.00" font-weight="bold" fill="#000">0</text>
<text x="484.89" y="465.10" font-size="38.00" font-weight="bold" fill="#000">10</text>
<text x="596.34" y="465.10" font-size="38.00" font-weight="bold" fill="#000">-30</text>
<text x="679.26" y="465.10" font-size="38.00" font-weight="bold" fill="#000">-20</text>
<text x="762.18" y="465.10" font-size="38.00" font-weight="bold" fill="#000">-10</text>
<text x="861.98" y="465.10" font-size="38.00" font-weight="bold" fill="#000">0</text>
<text x="933.89" y="465.10" font-size="38.00" font-weight="bold" fill="#000">10</text>
<text x="51.10" y="442.10" font-size="38.00" font-weight="bold" fill="#000">0.00</text>
<text x="50.60" y="359.20" font-size="38.00" font-weight="bold" fill="#000">0.01</text>
<text x="51.06" y="276.30" font-size="38.00" font-weight="bold" fill="#000">0.02</text>
<text x="50.91" y="193.40" font-size="38.00" font-weight="bold" fill="#000">0.03</text>
<text x="49.75" y="110.50" font-size="38.00" font-weight="bold" fill="#000">0.04</text>
<text x="50.60" y="27.60" font-size="38.00" font-weight="bold" fill="#000">0.05</text>
<text x="172.22" y="512.00" font-size="45.00" font-weight="bold" fill="#000" textLength="335.95" lengthAdjust="spacingAndGlyphs">Gate Voltage (V)</text>
<text x="621.22" y="512.00" font-size="45.00" font-weight="bold" fill="#000" textLength="335.95" lengthAdjust="spacingAndGlyphs">Gate Voltage (V)</text>
<text transform="rotate(-90)" x="-441.11" y="34.40" font-size="45.00" font-weight="bold" fill="#000" textLength="286.45" lengthAdjust="spacingAndGlyphs">Capacitance (</text>
<text transform="rotate(-90)" x="-156.61" y="34.40" font-size="45.00" font-weight="bold" fill="#000" textLength="26.46" lengthAdjust="spacingAndGlyphs" font-family="&quot;Liberation Serif&quot;, serif">µ</text>
<text transform="rotate(-90)" x="-131.03" y="34.40" font-size="45.00" font-weight="bold" fill="#000" textLength="27.69" lengthAdjust="spacingAndGlyphs">F</text>
<text transform="rotate(-90) translate(-108.24,34.40) skewX(-12.0) translate(108.24,-34.40)" x="-108.24" y="34.40" font-size="45.00" font-weight="bold" fill="#000">/</text>
<text transform="rotate(-90)" x="-92.66" y="34.40" font-size="45.00" font-weight="bold" fill="#000" textLength="64.94" lengthAdjust="spacingAndGlyphs">cm</text>
<text transform="rotate(-90)" x="-28.82" y="20.80" font-size="29.00" font-weight="bold" fill="#000" textLength="16.29" lengthAdjust="spacingAndGlyphs">2</text>
<text transform="rotate(-90)" x="-12.04" y="34.40" font-size="45.00" font-weight="bold" fill="#000" textLength="15.10" lengthAdjust="spacingAndGlyphs">)</text>
<text x="151.02" y="57.70" font-size="34.00" font-weight="normal" fill="#000" textLength="40.96" lengthAdjust="spacingAndGlyphs">(a)</text>
<text x="198.75" y="57.70" font-size="34.00" font-weight="bold" fill="#000" textLength="56.94" lengthAdjust="spacingAndGlyphs">SiO</text>
<text x="255.20" y="65.50" font-size="23.00" font-weight="bold" fill="#000">2</text>
<text x="266.17" y="57.70" font-size="34.00" font-weight="bold" fill="#000" transform="translate(266.5,57.7) skewX(-9) translate(-266.5,-57.7)">/</text>
<text x="278.29" y="57.70" font-size="34.00" font-weight="bold" fill="#000" textLength="65.56" lengthAdjust="spacingAndGlyphs">GaN</text>
<text x="603.03" y="57.70" font-size="34.00" font-weight="normal" fill="#000" textLength="40.73" lengthAdjust="spacingAndGlyphs">(b)</text>
<text x="649.73" y="57.70" font-size="34.00" font-weight="bold" fill="#000" textLength="58.19" lengthAdjust="spacingAndGlyphs">SiO</text>
<text x="706.20" y="65.50" font-size="23.00" font-weight="bold" fill="#000">2</text>
<text x="717.17" y="57.70" font-size="34.00" font-weight="bold" fill="#000" transform="translate(717.5,57.7) skewX(-9) translate(-717.5,-57.7)">/</text>
<text x="736.74" y="57.70" font-size="34.00" font-weight="bold" fill="#000" textLength="31.41" lengthAdjust="spacingAndGlyphs">Si</text>
<text x="194.14" y="91.00" font-size="34.00" font-weight="bold" fill="#000" textLength="27.76" lengthAdjust="spacingAndGlyphs">O</text>
<text x="220.20" y="98.30" font-size="23.00" font-weight="bold" fill="#000">2</text>
<text x="242.59" y="91.00" font-size="34.00" font-weight="bold" fill="#000" textLength="89.09" lengthAdjust="spacingAndGlyphs">800°C</text>
<text x="324.45" y="90.40" font-size="50.00" font-weight="normal" fill="#000" textLength="51.20" lengthAdjust="spacingAndGlyphs">→</text>
<text x="366.73" y="91.00" font-size="34.00" font-weight="bold" fill="#000" textLength="168.26" lengthAdjust="spacingAndGlyphs">FGA 400°C</text>
<text x="315.46" y="137.00" font-size="34.00" font-weight="bold" fill="#000" textLength="65.49" lengthAdjust="spacingAndGlyphs">CET</text>
<text x="389.47" y="141.50" font-size="42.00" font-weight="bold" fill="#000" textLength="22.58" lengthAdjust="spacingAndGlyphs">~</text>
<text x="417.99" y="137.00" font-size="34.00" font-weight="bold" fill="#000" textLength="115.28" lengthAdjust="spacingAndGlyphs">104 nm</text>
<text x="429.82" y="401.70" font-size="34.00" font-weight="bold" fill="#000" textLength="95.27" lengthAdjust="spacingAndGlyphs">1 MHz</text>
<text x="643.14" y="91.00" font-size="34.00" font-weight="bold" fill="#000" textLength="27.76" lengthAdjust="spacingAndGlyphs">O</text>
<text x="669.20" y="98.30" font-size="23.00" font-weight="bold" fill="#000">2</text>
<text x="691.59" y="91.00" font-size="34.00" font-weight="bold" fill="#000" textLength="89.09" lengthAdjust="spacingAndGlyphs">800°C</text>
<text x="773.45" y="90.40" font-size="50.00" font-weight="normal" fill="#000" textLength="51.20" lengthAdjust="spacingAndGlyphs">→</text>
<text x="815.73" y="91.00" font-size="34.00" font-weight="bold" fill="#000" textLength="168.26" lengthAdjust="spacingAndGlyphs">FGA 400°C</text>
<text x="764.46" y="137.00" font-size="34.00" font-weight="bold" fill="#000" textLength="65.49" lengthAdjust="spacingAndGlyphs">CET</text>
<text x="838.47" y="141.50" font-size="42.00" font-weight="bold" fill="#000" textLength="22.58" lengthAdjust="spacingAndGlyphs">~</text>
<text x="866.99" y="137.00" font-size="34.00" font-weight="bold" fill="#000" textLength="115.28" lengthAdjust="spacingAndGlyphs">104 nm</text>
<text x="878.82" y="400.50" font-size="34.00" font-weight="bold" fill="#000" textLength="95.27" lengthAdjust="spacingAndGlyphs">1 MHz</text>
<text x="202.19" y="179.50" font-size="34.00" font-weight="bold" fill="#ff0000" textLength="25.04" lengthAdjust="spacingAndGlyphs">w</text>
<text x="226.37" y="179.50" font-size="34.00" font-weight="bold" fill="#ff0000" transform="translate(226.37,179.50) skewX(-9.0) translate(-226.37,-179.50)">/</text>
<text x="246.21" y="179.50" font-size="34.00" font-weight="bold" fill="#ff0000" textLength="69.05" lengthAdjust="spacingAndGlyphs">FGA</text>
<text x="165.25" y="249.30" font-size="34.00" font-weight="bold" fill="#ff0000" textLength="95.97" lengthAdjust="spacingAndGlyphs">10 mV</text>
<text x="412.74" y="297.40" font-size="34.00" font-weight="bold" fill="#000" textLength="115.38" lengthAdjust="spacingAndGlyphs">300 mV</text>
<text x="327.39" y="345.40" font-size="34.00" font-weight="bold" fill="#000" textLength="24.15" lengthAdjust="spacingAndGlyphs">w</text>
<text x="350.97" y="345.40" font-size="34.00" font-weight="bold" fill="#000" transform="translate(350.97,345.40) skewX(-9.0) translate(-350.97,-345.40)">/</text>
<text x="362.02" y="345.40" font-size="34.00" font-weight="bold" fill="#000" textLength="98.55" lengthAdjust="spacingAndGlyphs">o FGA</text>
<text x="703.29" y="201.80" font-size="34.00" font-weight="bold" fill="#000" textLength="24.15" lengthAdjust="spacingAndGlyphs">w</text>
<text x="726.87" y="201.80" font-size="34.00" font-weight="bold" fill="#000" transform="translate(726.87,201.80) skewX(-9.0) translate(-726.87,-201.80)">/</text>
<text x="737.92" y="201.80" font-size="34.00" font-weight="bold" fill="#000" textLength="98.55" lengthAdjust="spacingAndGlyphs">o FGA</text>
<text x="702.24" y="242.00" font-size="34.00" font-weight="bold" fill="#000" textLength="115.48" lengthAdjust="spacingAndGlyphs">330 mV</text>
<text x="873.44" y="294.00" font-size="34.00" font-weight="bold" fill="#ff0000" textLength="97.08" lengthAdjust="spacingAndGlyphs">34 mV</text>
<text x="855.49" y="344.50" font-size="34.00" font-weight="bold" fill="#ff0000" textLength="25.04" lengthAdjust="spacingAndGlyphs">w</text>
<text x="879.67" y="344.50" font-size="34.00" font-weight="bold" fill="#ff0000" transform="translate(879.67,344.50) skewX(-9.0) translate(-879.67,-344.50)">/</text>
<text x="899.51" y="344.50" font-size="34.00" font-weight="bold" fill="#ff0000" textLength="69.05" lengthAdjust="spacingAndGlyphs">FGA</text>
</svg>
</body></html>
